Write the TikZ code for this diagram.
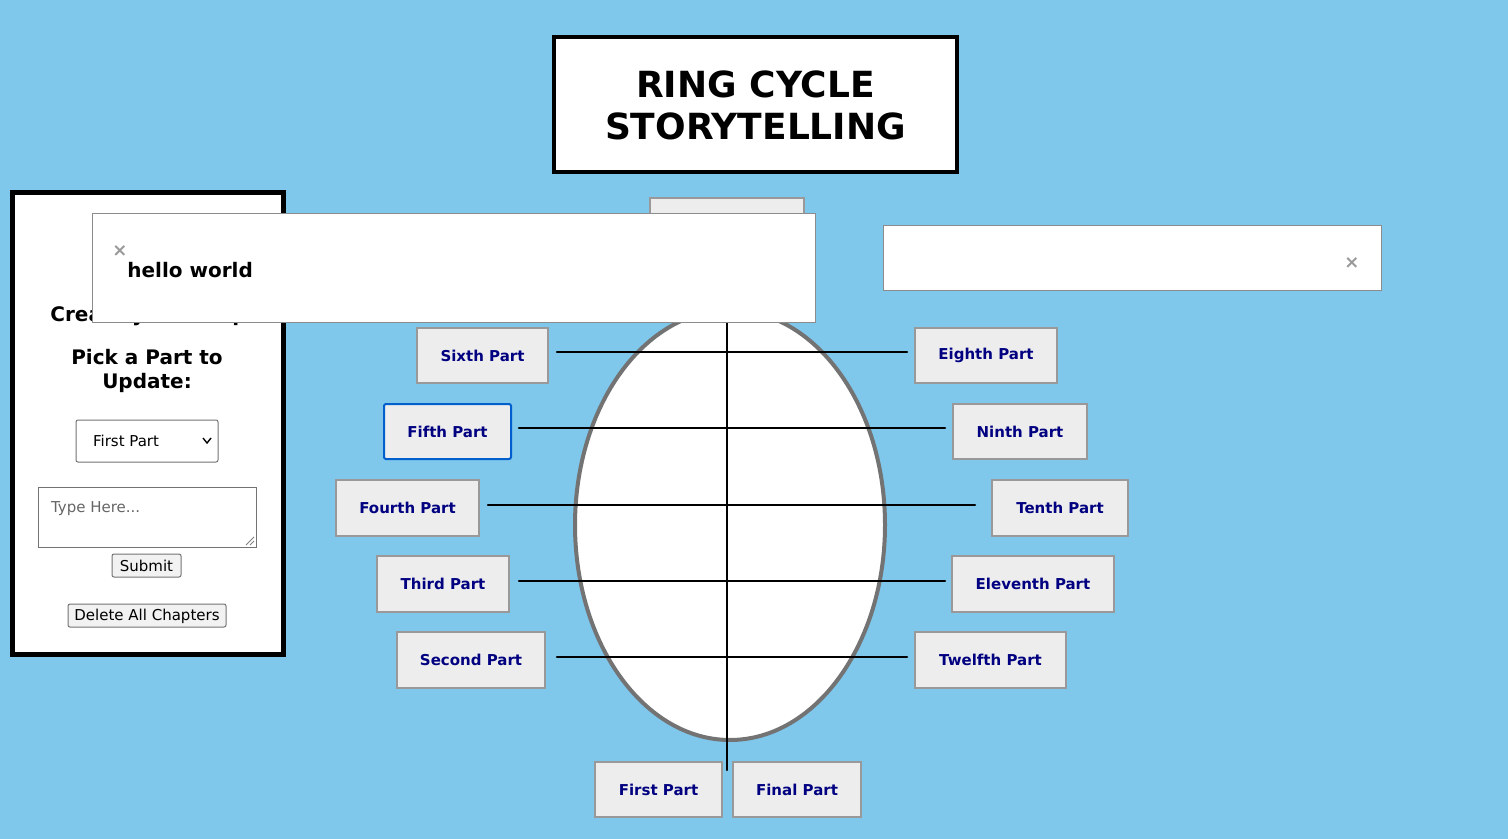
\documentclass[tikz,border=0pt]{standalone}
\usepackage{fontspec}
\setmainfont{DejaVu Sans}
\begin{document}
\begin{tikzpicture}[x=0.5pt,y=-0.5pt,
  btn/.style={draw=black!40,fill=black!7,line width=0.6pt},
  lbl/.style={font=\fontsize{7.5}{9}\selectfont\bfseries,text=blue!50!black},
  pop/.style={draw=black!45,fill=white,line width=0.5pt},
  xx/.style={font=\fontsize{9}{9}\selectfont\bfseries,text=black!40},
  ctl/.style={draw=black!55,fill=black!5,line width=0.5pt,rounded corners=1pt},
  sm/.style={font=\fontsize{7.5}{9}\selectfont},
  rung/.style={line width=1.1pt,line cap=round}]
\fill[fill={rgb,255:red,128;green,199;blue,236}] (0,0) rectangle (1508,839);
\useasboundingbox (0,0) rectangle (1508,839);
% title
\draw[line width=2pt,fill=white] (554,37) rectangle (957,172);
\node[font=\fontsize{18}{21}\selectfont\bfseries,align=center] (title) at (755.5,105) {RING CYCLE\\STORYTELLING};
% left panel
\draw[line width=2.5pt,fill=white] (12,193) rectangle (283,654);
\node[font=\fontsize{10}{12}\selectfont\bfseries,anchor=west,inner sep=0pt] (create) at (50,316) {Create your Chapter};
\node[font=\fontsize{10}{12}\selectfont\bfseries,align=center] (pick) at (147,371) {Pick a Part to\\Update:};
\draw[draw=black!55,fill=white,rounded corners=1pt,line width=0.5pt] (76,420) rectangle (218,462);
\node[sm,anchor=west] (sel) at (86,441) {First Part};
\draw[line width=0.7pt] (203,438)--(207,443)--(211,438);
\draw[draw=black!55,fill=white,line width=0.5pt] (38,487) rectangle (256,547);
\node[sm,anchor=west,text=black!60] (ta) at (44,509) {Type Here...};
\draw[black!50,line width=0.4pt] (246,545)--(254,537) (250,545)--(254,541);
\draw[ctl] (112,554) rectangle (181,577);
\node[sm] (submit) at (146.5,566) {Submit};
\draw[ctl] (68,604) rectangle (226,627);
\node[sm] (del) at (147,616) {Delete All Chapters};
% top button hidden
\draw[btn] (650,198) rectangle (804,250);
% ellipse
\draw[line width=2pt,draw=black!55,fill=white] (730,525) ellipse [x radius=155,y radius=215];
% rungs
\foreach \y/\a/\b in {352/557/907,428/519/945,505/488/975,581/519/945,657/557/907}{
  \draw[rung] (\a,\y) -- (\b,\y);}
\draw[rung] (727,215) -- (727,770);
% buttons
\foreach \n/\t/\xa/\ya/\xb/\yb in {
 sixth/Sixth Part/417/328/548/383, eighth/Eighth Part/915/328/1057/383,
 ninth/Ninth Part/953/404/1087/459,
 fourth/Fourth Part/336/480/479/536, tenth/Tenth Part/992/480/1128/536,
 third/Third Part/377/556/509/612, eleventh/Eleventh Part/952/556/1114/612,
 second/Second Part/397/632/545/688, twelfth/Twelfth Part/915/632/1066/688,
 first/First Part/595/762/722/817, final/Final Part/733/762/861/817}{
 \draw[btn] (\xa,\ya) rectangle (\xb,\yb);
 \node[lbl] (\n) at ({(\xa+\xb)/2},{(\ya+\yb)/2}) {\t};}
\draw[btn,draw={rgb,255:red,0;green,95;blue,204},line width=1pt,rounded corners=1pt] (384,404) rectangle (511,459);
\node[lbl] (fifth) at (447.5,431.5) {Fifth Part};
% popups
\draw[pop] (92,214) rectangle (815,323);
\node[xx] (x1) at (120,251) {×};
\node[font=\fontsize{10}{12}\selectfont\bfseries,anchor=west,inner sep=0pt] (hw) at (127,270) {hello world};
\draw[pop] (883,226) rectangle (1381,291);
\node[xx] (x2) at (1352,263) {×};
\end{tikzpicture}
\end{document}
